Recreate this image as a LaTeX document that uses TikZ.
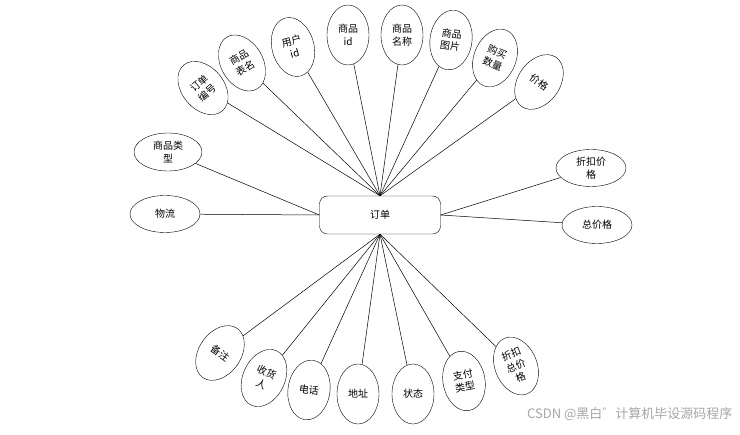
\documentclass[tikz,border=0pt]{standalone}
\usepackage{fontspec}
\setmainfont{Noto Sans CJK SC}
\usetikzlibrary{shapes.geometric}
\begin{document}
\begin{tikzpicture}[x=1pt,y=-1pt,
  attr/.style={draw,ellipse,inner sep=0pt,minimum width=42pt,minimum height=60pt,align=center,font=\fontsize{10}{12.5}\selectfont},
  hattr/.style={draw,ellipse,inner sep=0pt,minimum width=70pt,minimum height=37pt,align=center,font=\fontsize{10}{12.5}\selectfont},
  conn/.style={draw,black,line width=0.5pt}]
\useasboundingbox (0,0) rectangle (740,435);
\node[draw,rounded corners=8pt,minimum width=121pt,minimum height=38pt,font=\fontsize{10}{12}\selectfont] (c) at (380,215) {订单};
\node[attr,rotate=40] (a1) at (203,88) {订单\\编号};
\node[attr,rotate=30] (a2) at (242,63) {商品\\表名};
\node[attr,rotate=15] (a3) at (293,47) {用户\\id};
\node[attr] (a4) at (348,35) {商品\\id};
\node[attr] (a5) at (402,35) {商品\\名称};
\node[attr,rotate=-8] (a6) at (451,40) {商品\\图片};
\node[attr,rotate=-22] (a7) at (495,58) {购买\\数量};
\node[attr,rotate=-35] (a8) at (539,82) {价格};
\node[hattr,minimum width=68pt,minimum height=38pt] (b1) at (168,152) {商品类\\型};
\node[hattr] (b2) at (165,214) {物流};
\node[hattr] (b3) at (591,168) {折扣价\\格};
\node[hattr] (b4) at (597,225) {总价格};
\node[attr,rotate=-35] (d1) at (220,353) {备注};
\node[attr,rotate=-25] (d2) at (264,378) {收货\\人};
\node[attr,rotate=-8] (d3) at (309,390) {电话};
\node[attr] (d4) at (358,394) {地址};
\node[attr] (d5) at (413,394) {状态};
\node[attr,rotate=10] (d6) at (464,381) {支付\\类型};
\node[attr,rotate=22] (d7) at (516,366) {折扣\\总价\\格};
\foreach \n in {a1,a2,a3,a4,a5,a6,a7,a8} \draw[conn] (\n) -- (c.north);
\foreach \n in {d1,d2,d3,d4,d5,d6,d7} \draw[conn] (\n) -- (c.south);
\draw[conn] (b1) -- (c.west);
\draw[conn] (b2) -- (c.west);
\draw[conn] (b3) -- (c.east);
\draw[conn] (b4) -- (c.east);
\node[anchor=east,text=gray!70,font=\fontsize{13}{15}\selectfont] (wm) at (736,414) {CSDN @黑白゛计算机毕设源码程序};
\end{tikzpicture}
\end{document}
